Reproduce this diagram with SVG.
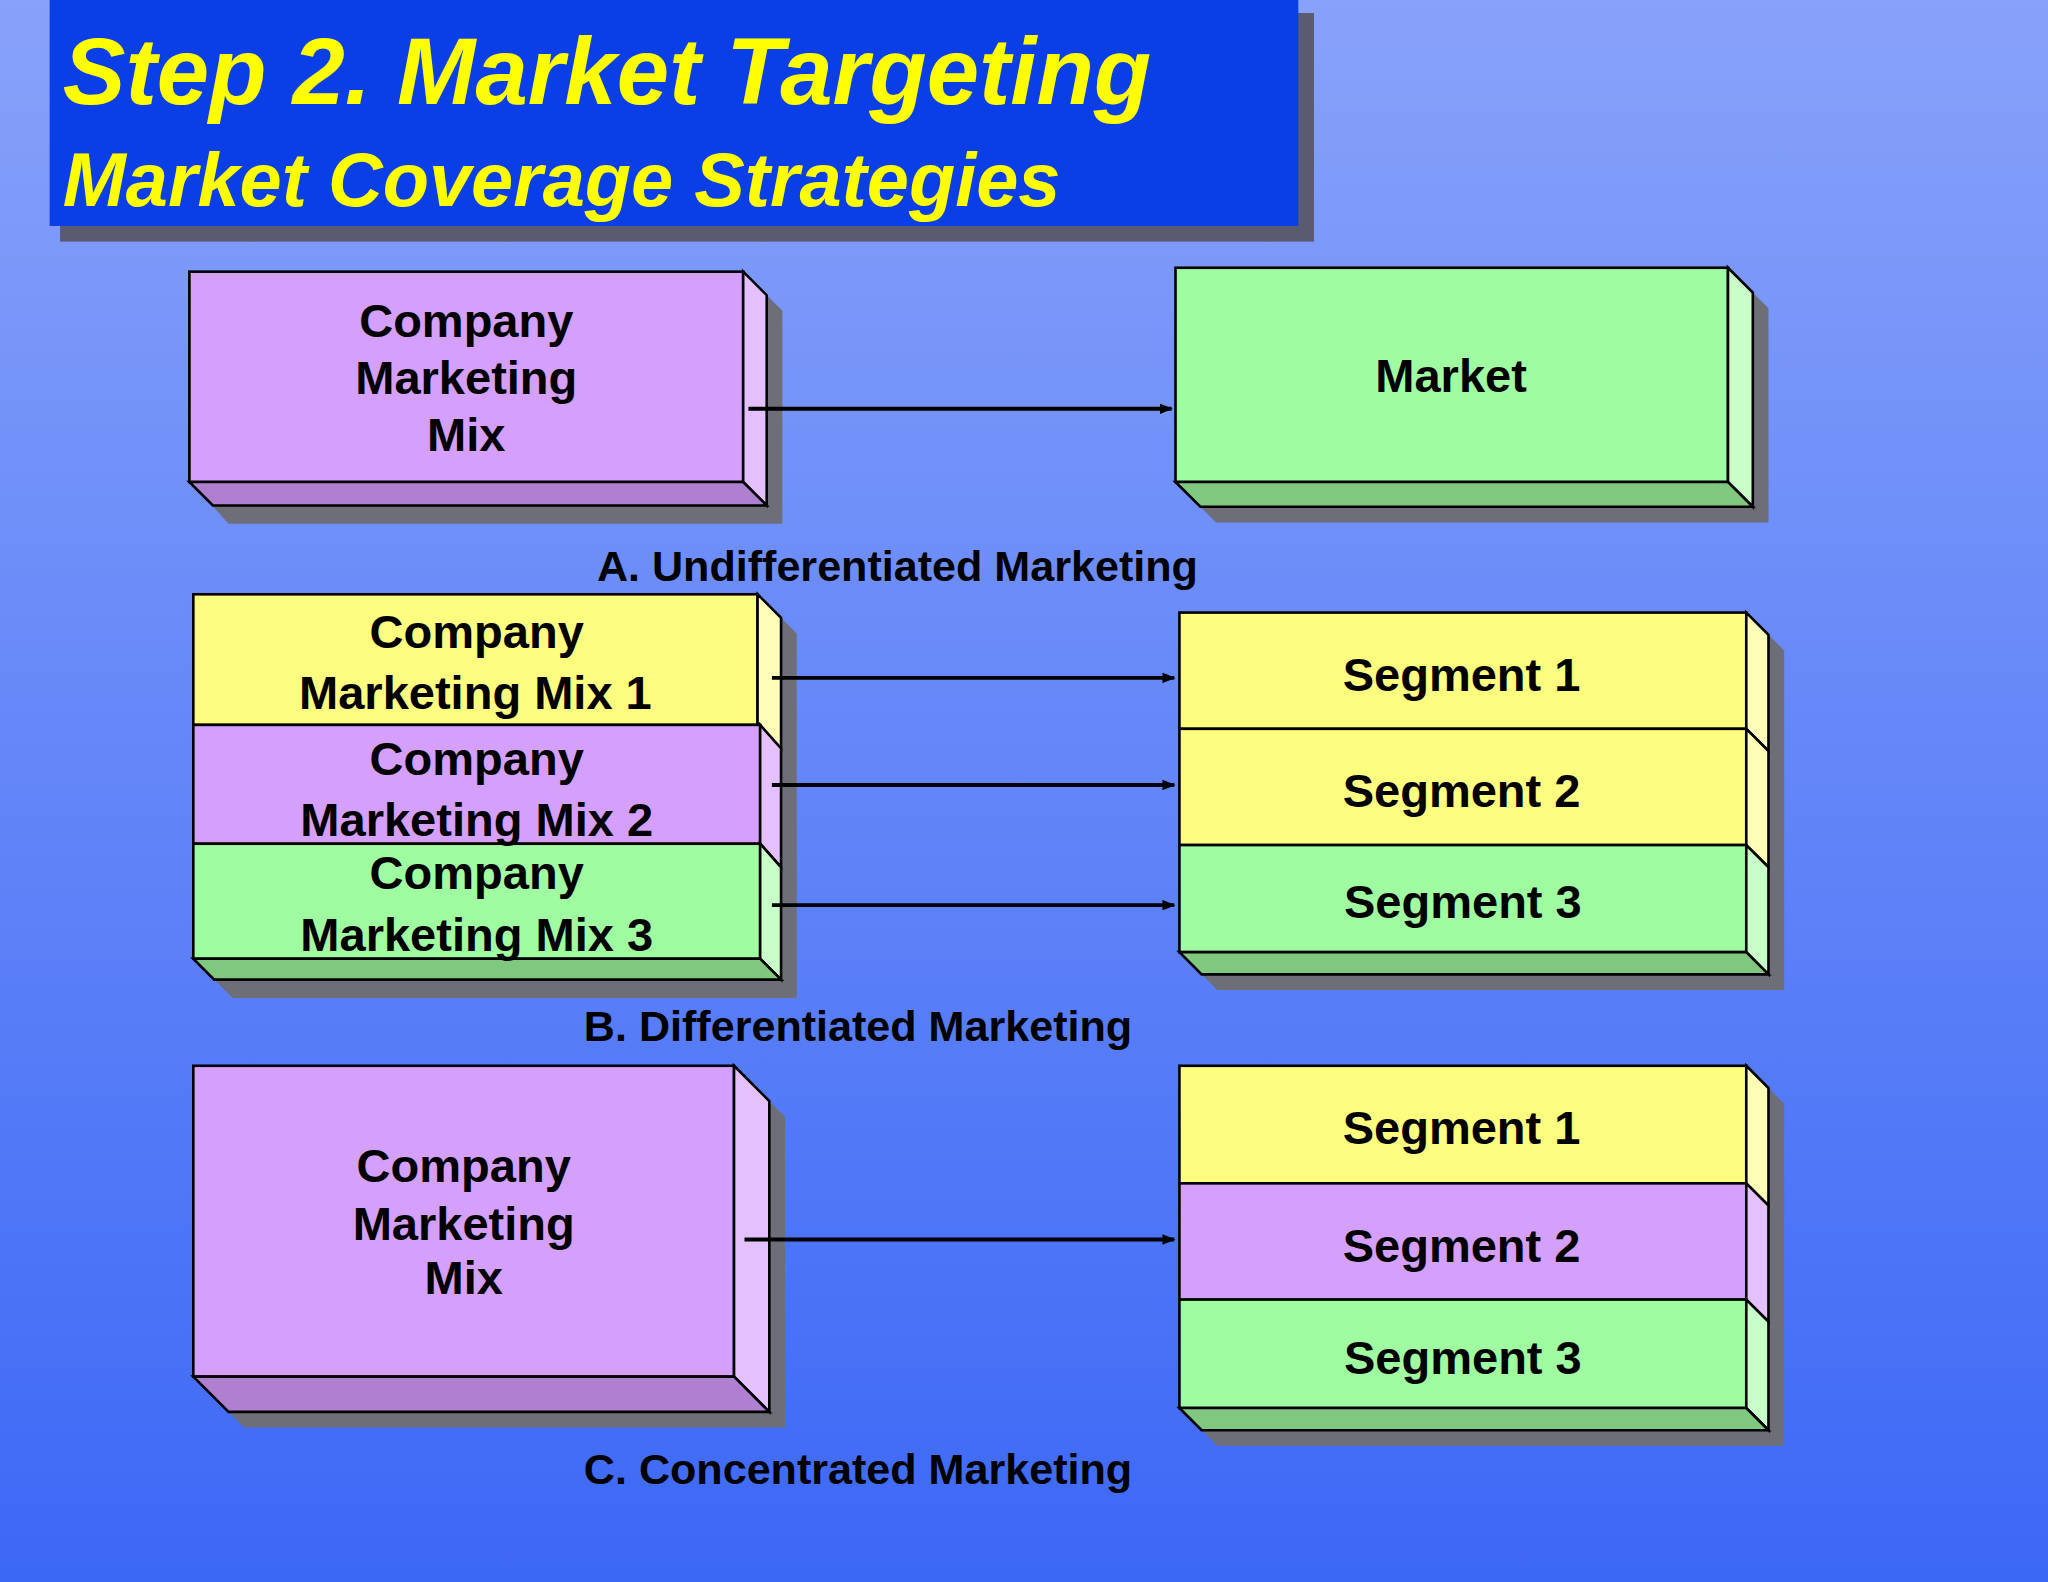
<svg xmlns="http://www.w3.org/2000/svg" width="2048" height="1582" viewBox="0 0 2048 1582">
<defs>
<linearGradient id="bg" x1="0" y1="0" x2="0" y2="1"><stop offset="0" stop-color="#88a2fa"/><stop offset="1" stop-color="#3c68f6"/></linearGradient>
<marker id="ah" markerWidth="10" markerHeight="8" refX="9" refY="4" orient="auto" markerUnits="userSpaceOnUse"><path d="M0,0 L10,4 L0,8 z" fill="#000"/></marker>
<style>
.sh{fill:#6e6e78}
.f{stroke:#000;stroke-width:2}
.y{fill:#fdfd80}.ys{fill:#fefeb8}.yb{fill:#d0d060}
.p{fill:#d4a0fc}.ps{fill:#e4c0ff}.pb{fill:#b080d0}
.g{fill:#a0fca0}.gs{fill:#c8ffc8}.gb{fill:#80c880}
.t{font-family:"Liberation Sans",Arial,sans-serif;font-weight:bold;font-size:36px;fill:#000;text-anchor:middle}
.lab{font-family:"Liberation Sans",Arial,sans-serif;font-weight:bold;font-size:33px;fill:#000}
.ttl{font-family:"Liberation Sans",Arial,sans-serif;font-weight:bold;font-style:italic;fill:#ffff00}
.ar{stroke:#000;stroke-width:3;fill:none;marker-end:url(#ah)}
</style>
</defs>
<rect width="2048" height="1582" fill="url(#bg)"/>
<g transform="scale(1.30612)">
<g id="title">
<rect x="46" y="10" width="960" height="175" fill="#5a5a70"/>
<rect x="38" y="0" width="956" height="173" fill="#0a3ee6"/>
<text class="ttl" x="48" y="80" font-size="72">Step 2.  Market Targeting</text>
<text class="ttl" x="48" y="158" font-size="58">Market Coverage Strategies</text>
</g>
<g id="a-mix">
<polygon class="sh" points="157,220 581,220 599,238 599,401 175,401 157,381"/>
<rect class="f p" x="145" y="208" width="424" height="161"/>
<polygon class="f ps" points="569,208 587,226 587,387 569,369"/>
<polygon class="f pb" points="145,369 569,369 587,387 163,387"/>
<text class="t" x="357" y="258">Company</text><text class="t" x="357" y="302">Marketing</text><text class="t" x="357" y="345">Mix</text>
</g>
<g id="a-market">
<polygon class="sh" points="912,217 1335,217 1354,236 1354,400 931,400 912,381"/>
<rect class="f g" x="900" y="205" width="423" height="164"/>
<polygon class="f gs" points="1323,205 1342,224 1342,388 1323,369"/>
<polygon class="f gb" points="900,369 1323,369 1342,388 919,388"/>
<text class="t" x="1111" y="300">Market</text>
</g>
<text class="lab" x="457" y="445">A.  Undifferentiated Marketing</text>
<g id="b-mix">
<polygon class="sh" points="160,467 592,467 610,485 610,764 178,764 160,746"/>
<rect class="f y" x="148" y="455" width="432" height="100"/>
<polygon class="f ys" points="580,455 598,473 598,573 580,555"/>
<rect class="f p" x="148" y="555" width="434" height="91"/>
<polygon class="f ps" points="582,555 598,573 598,664 582,646"/>
<rect class="f g" x="148" y="646" width="434" height="88"/>
<polygon class="f gs" points="582,646 598,664 598,750 582,734"/>
<polygon class="f gb" points="148,734 582,734 598,750 164,750"/>
<text class="t" x="365" y="496">Company</text><text class="t" x="364" y="543">Marketing Mix 1</text>
<text class="t" x="365" y="593">Company</text><text class="t" x="365" y="640">Marketing Mix 2</text>
<text class="t" x="365" y="681">Company</text><text class="t" x="365" y="728">Marketing Mix 3</text>
</g>
<g id="b-seg">
<polygon class="sh" points="915,481 1349,481 1366,498 1366,758 932,758 915,741"/>
<rect class="f y" x="903" y="469" width="434" height="89"/>
<polygon class="f ys" points="1337,469 1354,486 1354,575 1337,558"/>
<rect class="f y" x="903" y="558" width="434" height="89"/>
<polygon class="f ys" points="1337,558 1354,575 1354,664 1337,647"/>
<rect class="f g" x="903" y="647" width="434" height="82"/>
<polygon class="f gs" points="1337,647 1354,664 1354,746 1337,729"/>
<polygon class="f gb" points="903,729 1337,729 1354,746 920,746"/>
<text class="t" x="1119" y="529">Segment 1</text><text class="t" x="1119" y="618">Segment 2</text><text class="t" x="1120" y="703">Segment 3</text>
</g>
<text class="lab" x="447" y="797">B.  Differentiated Marketing</text>
<g id="c-mix">
<polygon class="sh" points="160,828 574,828 601,855 601,1093 187,1093 160,1066"/>
<rect class="f p" x="148" y="816" width="414" height="238"/>
<polygon class="f ps" points="562,816 589,843 589,1081 562,1054"/>
<polygon class="f pb" points="148,1054 562,1054 589,1081 175,1081"/>
<text class="t" x="355" y="905">Company</text><text class="t" x="355" y="949">Marketing</text><text class="t" x="355" y="991">Mix</text>
</g>
<g id="c-seg">
<polygon class="sh" points="915,828 1349,828 1366,845 1366,1107 932,1107 915,1090"/>
<rect class="f y" x="903" y="816" width="434" height="90"/>
<polygon class="f ys" points="1337,816 1354,833 1354,923 1337,906"/>
<rect class="f p" x="903" y="906" width="434" height="89"/>
<polygon class="f ps" points="1337,906 1354,923 1354,1012 1337,995"/>
<rect class="f g" x="903" y="995" width="434" height="83"/>
<polygon class="f gs" points="1337,995 1354,1012 1354,1095 1337,1078"/>
<polygon class="f gb" points="903,1078 1337,1078 1354,1095 920,1095"/>
<text class="t" x="1119" y="876">Segment 1</text><text class="t" x="1119" y="966">Segment 2</text><text class="t" x="1120" y="1052">Segment 3</text>
</g>
<text class="lab" x="447" y="1136">C.  Concentrated Marketing</text>
<g id="connectors">
<line class="ar" x1="573" y1="313" x2="897" y2="313"/>
<line class="ar" x1="591" y1="519" x2="899" y2="519"/>
<line class="ar" x1="591" y1="601" x2="899" y2="601"/>
<line class="ar" x1="591" y1="693" x2="899" y2="693"/>
<line class="ar" x1="570" y1="949" x2="899" y2="949"/>
</g>
</g>
</svg>
